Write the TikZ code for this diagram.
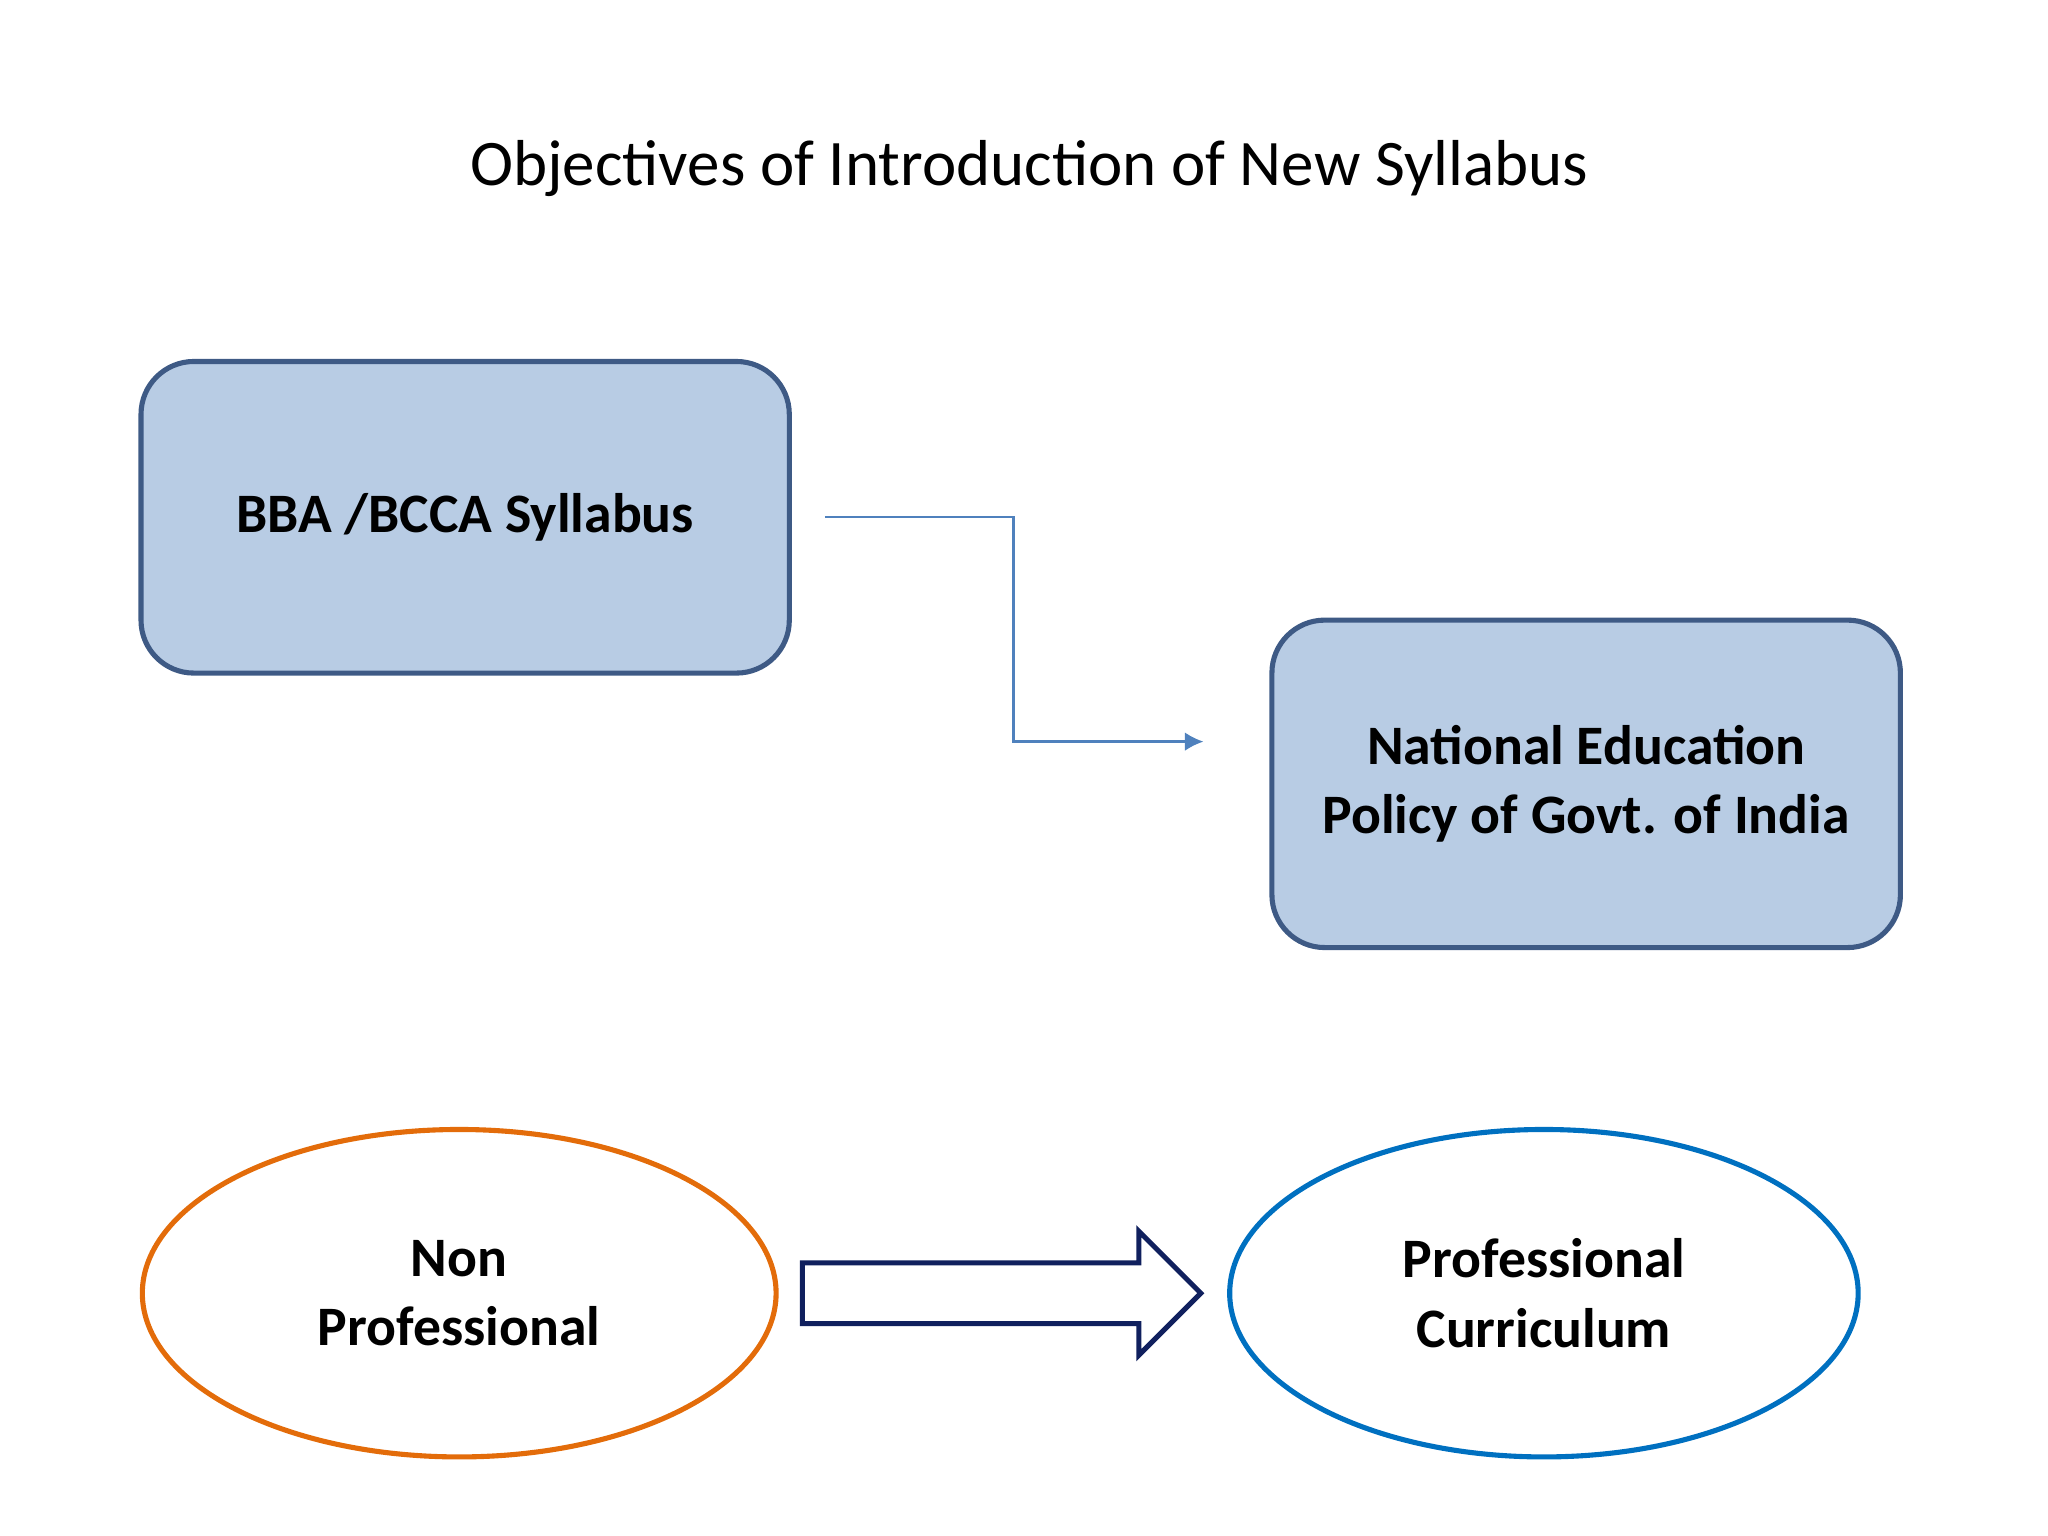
\documentclass[tikz,border=0pt]{standalone}
\usepackage{fontspec}
\setmainfont{Carlito}
\usetikzlibrary{shapes.geometric,arrows.meta}
\definecolor{boxfill}{HTML}{B8CCE4}
\definecolor{boxdraw}{HTML}{3E5A85}
\definecolor{conn}{HTML}{4F81BD}
\definecolor{orng}{HTML}{E36C0A}
\definecolor{blu}{HTML}{0070C0}
\definecolor{navy}{HTML}{10205E}
\tikzset{
 rbox/.style={draw=boxdraw,fill=boxfill,line width=1.1pt,rounded corners=0.4cm,align=center,font=\fontsize{12pt}{15pt}\selectfont\bfseries},
 oval/.style={ellipse,line width=1.1pt,align=center,font=\fontsize{12pt}{15pt}\selectfont\bfseries}
}
\begin{document}
\begin{tikzpicture}[x=0.01cm,y=-0.01cm]
\useasboundingbox (0,0) rectangle (1552,1164);
\node[font=\fontsize{14pt}{17pt}\selectfont] (title) at (780,128) {Objectives of Introduction of New Syllabus};
\node[rbox,minimum width=4.91cm,minimum height=2.36cm] (bba) at (352.5,392) {BBA /BCCA Syllabus};
\node[rbox,minimum width=4.76cm,minimum height=2.48cm] (nep) at (1202,594) {National Education\\Policy of Govt. of India};
\coordinate (c1) at (625,392);
\coordinate (c2) at (912,562);
\draw[conn,line width=0.5pt,-{Latex[length=4pt,width=4pt]}] (c1) -- (768,392) |- (c2);
\node[oval,draw=orng,minimum width=4.8cm,minimum height=2.48cm] (np) at (348,980) {Non\\Professional};
\node[oval,draw=blu,minimum width=4.76cm,minimum height=2.48cm] (pc) at (1170,980) {Professional\\Curriculum};
\draw[navy,line width=1.1pt,fill=white] (608,957) -- (863,957) -- (863,933) -- (910,980) -- (863,1027) -- (863,1003) -- (608,1003) -- cycle;
\end{tikzpicture}
\end{document}
